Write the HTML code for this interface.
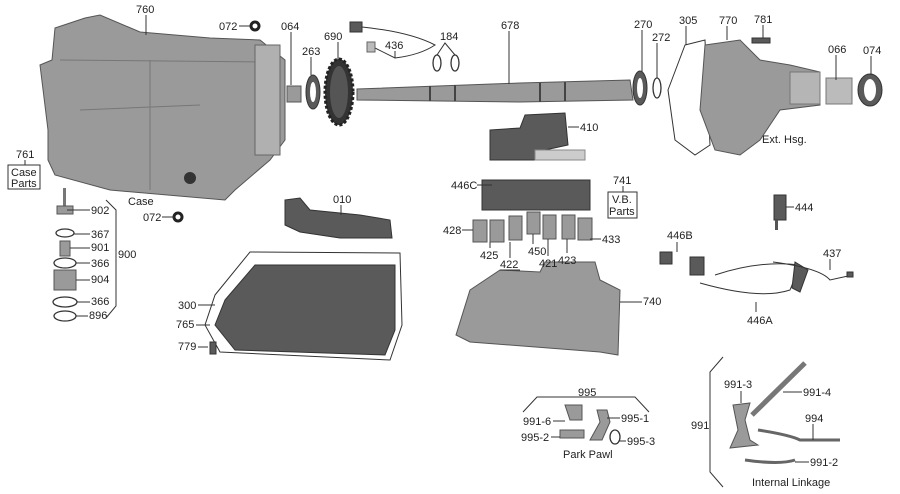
<!DOCTYPE html>
<html><head><meta charset="utf-8"><style>
html,body{margin:0;padding:0;background:#fff}
svg{display:block}
text{font-family:"Liberation Sans",sans-serif;font-size:11px;fill:#222}
.l{stroke:#333;stroke-width:1;fill:none}
.p{fill:#9a9a9a;stroke:#555;stroke-width:1}
.d{fill:#5a5a5a;stroke:#333;stroke-width:1}
.r{fill:none;stroke:#333;stroke-width:1.3}
</style></head><body>
<svg width="900" height="494" viewBox="0 0 900 494">
<!-- Case -->
<path class="p" d="M55 28 L85 18 L100 15 L140 32 L210 38 L260 40 L270 48 L285 60 L285 140 L270 160 L235 190 L225 200 L110 190 L55 175 L48 160 L48 130 L40 65 L52 60 Z"/>
<path d="M60 60 L270 62 M80 110 L200 105 M150 60 L150 190" stroke="#777" fill="none"/>
<rect x="255" y="45" width="25" height="110" fill="#b0b0b0" stroke="#666"/>
<circle cx="190" cy="178" r="6" fill="#333"/>
<!-- 064 263 690 -->
<rect x="287" y="86" width="14" height="16" class="p"/>
<ellipse cx="313" cy="92" rx="7" ry="17" class="d"/><ellipse cx="313" cy="92" rx="3" ry="10" fill="#fff"/>
<ellipse cx="339" cy="92" rx="14" ry="33" fill="#333" stroke="#222" stroke-dasharray="3 2" stroke-width="3"/>
<ellipse cx="339" cy="92" rx="9" ry="26" fill="#555"/>
<!-- 436 wire -->
<rect x="350" y="22" width="12" height="10" class="d"/>
<path d="M362 27 Q410 32 435 45 Q420 55 395 58 L375 48" class="l" stroke="#555"/>
<rect x="367" y="42" width="8" height="10" fill="#bbb" stroke="#666"/>
<ellipse cx="437" cy="63" rx="4" ry="8" class="r"/><ellipse cx="455" cy="63" rx="4" ry="8" class="r"/>
<!-- shaft -->
<path class="p" d="M357 89 L520 83 L630 80 L633 100 L520 102 L357 100 Z"/>
<path d="M430 86 L430 101 M455 85 L455 101 M540 83 L540 102 M565 82 L565 101" stroke="#444" stroke-width="2"/>
<ellipse cx="640" cy="88" rx="7" ry="17" class="d"/><ellipse cx="640" cy="88" rx="3" ry="10" fill="#fff"/>
<ellipse cx="657" cy="88" rx="4" ry="10" class="r"/>
<!-- gasket + ext housing -->
<path d="M685 45 L705 40 L710 145 L695 155 L675 140 L668 90 Z" class="l" stroke-width="2"/>
<path class="p" d="M705 45 L740 40 L760 60 L790 65 L820 72 L820 105 L780 110 L760 140 L740 155 L715 150 L700 110 Z"/>
<rect x="790" y="72" width="30" height="32" fill="#b5b5b5" stroke="#777"/>
<rect x="752" y="38" width="18" height="5" class="d"/>
<rect x="826" y="78" width="26" height="26" fill="#bbb" stroke="#777"/>
<ellipse cx="870" cy="90" rx="12" ry="16" class="d"/><ellipse cx="870" cy="90" rx="6" ry="11" fill="#fff"/>
<!-- 072 seals -->
<circle cx="255" cy="26" r="4" fill="none" stroke="#222" stroke-width="3"/>
<circle cx="178" cy="217" r="4" fill="none" stroke="#222" stroke-width="3"/>
<!-- 410 -->
<path class="d" d="M490 130 L520 128 L525 115 L565 113 L568 145 L545 150 L540 160 L490 160 Z"/>
<rect x="535" y="150" width="50" height="10" fill="#ccc" stroke="#888"/>
<!-- 446C -->
<rect x="482" y="180" width="108" height="30" class="d"/>
<!-- solenoids -->
<g class="p">
<rect x="473" y="220" width="14" height="22"/><rect x="490" y="220" width="14" height="22"/><rect x="509" y="216" width="13" height="24"/><rect x="527" y="212" width="13" height="22"/><rect x="543" y="215" width="13" height="24"/><rect x="562" y="215" width="13" height="24"/><rect x="578" y="218" width="14" height="22"/>
</g>
<!-- 740 valve body -->
<path class="p" d="M470 290 L500 270 L540 272 L545 262 L595 262 L600 280 L620 290 L618 355 L600 352 L470 342 L456 335 Z"/>
<!-- 010 filter -->
<path class="d" d="M285 200 L300 198 L310 210 L360 215 L390 220 L392 238 L340 238 L300 232 L285 225 Z"/>
<!-- pan -->
<path d="M215 295 L250 252 L400 253 L402 325 L390 360 L220 352 L205 325 Z" class="l" stroke-width="2"/>
<path class="d" d="M225 300 L255 265 L395 265 L395 330 L385 355 L235 350 L215 325 Z" fill="#3e3e3e"/>
<rect x="210" y="342" width="6" height="12" class="d"/>
<!-- 900 assembly -->
<rect x="63" y="188" width="3" height="18" fill="#777"/>
<rect x="57" y="206" width="16" height="8" class="p"/>
<ellipse cx="65" cy="233" rx="9" ry="4" class="r"/>
<rect x="60" y="241" width="10" height="15" class="p"/>
<ellipse cx="65" cy="263" rx="11" ry="5" class="r"/>
<rect x="54" y="270" width="22" height="20" class="p"/>
<ellipse cx="65" cy="302" rx="12" ry="5" class="r"/>
<ellipse cx="65" cy="316" rx="11" ry="5" class="r"/>
<!-- 444 -->
<rect x="774" y="195" width="12" height="25" class="d"/><rect x="775" y="220" width="3" height="10" fill="#555"/>
<!-- harness -->
<rect x="660" y="252" width="12" height="12" class="d"/><rect x="690" y="257" width="14" height="18" class="d"/>
<path d="M700 283 Q760 300 790 290 L800 265 M715 275 Q760 260 800 265" class="l" stroke="#777" stroke-width="2"/>
<path class="d" d="M795 262 L808 270 L800 292 L792 288 Z"/>
<path d="M773 262 Q820 268 830 280 L848 276" class="l" stroke="#555"/>
<rect x="847" y="272" width="6" height="5" class="d"/>
<!-- park pawl -->
<path class="p" d="M565 405 L582 405 L582 420 L570 420 Z"/>
<rect x="560" y="430" width="24" height="8" class="p"/>
<path class="p" d="M597 410 L607 410 L610 422 L602 440 L590 440 L600 422 Z"/>
<ellipse cx="615" cy="437" rx="5" ry="7" class="r"/>
<!-- linkage -->
<path class="p" d="M733 405 L750 403 L745 420 L750 440 L758 445 L730 448 L738 430 Z"/>
<path d="M752 415 L805 363" stroke="#777" stroke-width="5"/>
<path d="M758 430 Q790 435 800 440 L840 440" stroke="#666" stroke-width="3" fill="none"/>
<path d="M745 460 Q780 465 795 460" stroke="#666" stroke-width="3" fill="none"/>
<!-- labels & leaders -->
<text x="136" y="13">760</text><path class="l" d="M146 15 L146 35"/>
<text x="219" y="30">072</text><path class="l" d="M239 26 L250 26"/>
<text x="281" y="30">064</text><path class="l" d="M291 32 L291 85"/>
<text x="302" y="55">263</text><path class="l" d="M311 57 L311 75"/>
<text x="324" y="40">690</text><path class="l" d="M338 42 L338 60"/>
<text x="385" y="49">436</text><path class="l" d="M395 51 L395 58"/>
<text x="440" y="40">184</text><path class="l" d="M437 55 L445 43 L455 55"/>
<text x="501" y="29">678</text><path class="l" d="M509 31 L509 84"/>
<text x="634" y="28">270</text><path class="l" d="M642 30 L642 72"/>
<text x="652" y="41">272</text><path class="l" d="M657 43 L657 78"/>
<text x="679" y="24">305</text><path class="l" d="M686 26 L686 45"/>
<text x="719" y="24">770</text><path class="l" d="M727 26 L727 40"/>
<text x="754" y="23">781</text><path class="l" d="M763 25 L763 38"/>
<text x="828" y="53">066</text><path class="l" d="M836 55 L836 80"/>
<text x="863" y="54">074</text><path class="l" d="M871 56 L871 75"/>
<text x="762" y="143">Ext. Hsg.</text>
<text x="16" y="158">761</text><path class="l" d="M25 160 L25 165"/>
<rect x="8" y="165" width="32" height="24" fill="none" stroke="#333"/>
<text x="11" y="176">Case</text><text x="11" y="187">Parts</text>
<text x="128" y="205">Case</text>
<text x="143" y="221">072</text><path class="l" d="M162 217 L174 217"/>
<text x="91" y="214">902</text><path class="l" d="M67 210 L90 210"/>
<text x="91" y="238">367</text><path class="l" d="M74 234 L90 234"/>
<text x="91" y="251">901</text><path class="l" d="M70 248 L90 248"/>
<text x="91" y="267">366</text><path class="l" d="M76 263 L90 263"/>
<text x="91" y="283">904</text><path class="l" d="M76 280 L90 280"/>
<text x="91" y="305">366</text><path class="l" d="M77 302 L90 302"/>
<text x="89" y="319">896</text><path class="l" d="M76 316 L88 316"/>
<path class="l" d="M106 200 L116 210 L116 306 L106 318"/>
<text x="118" y="258">900</text>
<text x="333" y="203">010</text><path class="l" d="M341 205 L341 215"/>
<text x="178" y="309">300</text><path class="l" d="M198 305 L215 305"/>
<text x="176" y="328">765</text><path class="l" d="M196 325 L210 325"/>
<text x="178" y="350">779</text><path class="l" d="M198 347 L208 347"/>
<text x="580" y="131">410</text><path class="l" d="M568 127 L579 127"/>
<text x="451" y="189">446C</text><path class="l" d="M477 185 L492 185"/>
<text x="613" y="184">741</text><path class="l" d="M623 186 L623 192"/>
<rect x="608" y="192" width="29" height="26" fill="none" stroke="#333"/>
<text x="612" y="203">V.B.</text><text x="609" y="215">Parts</text>
<text x="443" y="234">428</text><path class="l" d="M462 230 L473 230"/>
<text x="480" y="259">425</text><path class="l" d="M490 242 L490 248"/>
<text x="500" y="268">422</text><path class="l" d="M500 270 L520 270 M510 242 L510 258"/>
<text x="528" y="255">450</text><path class="l" d="M533 234 L533 244"/>
<text x="539" y="267">421</text><path class="l" d="M548 239 L548 256"/>
<text x="558" y="264">423</text><path class="l" d="M567 239 L567 253"/>
<text x="602" y="243">433</text><path class="l" d="M590 239 L601 239"/>
<text x="643" y="305">740</text><path class="l" d="M620 302 L642 302"/>
<text x="667" y="239">446B</text><path class="l" d="M677 242 L677 252"/>
<text x="795" y="211">444</text><path class="l" d="M786 207 L794 207"/>
<text x="823" y="257">437</text><path class="l" d="M830 259 L830 270"/>
<text x="747" y="324">446A</text><path class="l" d="M756 312 L756 302"/>
<text x="578" y="396">995</text>
<path class="l" d="M523 412 L537 397 L635 397 L649 412"/>
<text x="523" y="425">991-6</text><path class="l" d="M553 421 L565 421"/>
<text x="621" y="422">995-1</text><path class="l" d="M607 418 L620 418"/>
<text x="521" y="441">995-2</text><path class="l" d="M551 437 L560 437"/>
<text x="627" y="445">995-3</text><path class="l" d="M619 441 L626 441"/>
<text x="563" y="458">Park Pawl</text>
<path class="l" d="M723 357 L710 372 L710 472 L723 487"/>
<text x="691" y="429">991</text>
<text x="724" y="388">991-3</text><path class="l" d="M741 391 L741 403"/>
<text x="803" y="396">991-4</text><path class="l" d="M783 392 L802 392"/>
<text x="805" y="422">994</text><path class="l" d="M813 424 L813 440"/>
<text x="810" y="466">991-2</text><path class="l" d="M795 462 L809 462"/>
<text x="752" y="486">Internal Linkage</text>
</svg>
</body></html>
